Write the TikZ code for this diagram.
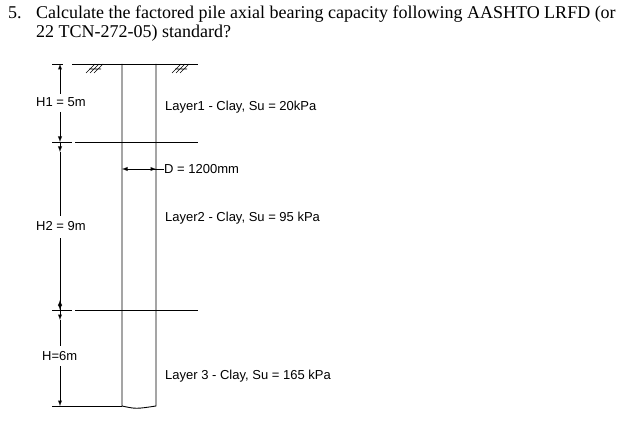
\documentclass[tikz,border=0pt]{standalone}
\usepackage{fontspec}
\setmainfont{Liberation Serif}
\newfontfamily\arialf{Liberation Sans}
\begin{document}
\begin{tikzpicture}[x=1pt,y=-1pt,
  lab/.style={font=\arialf\fontsize{13}{15}\selectfont,anchor=west,inner sep=0},
  ttl/.style={font=\fontsize{18}{21}\selectfont,anchor=base west,inner sep=0},
  ln/.style={line width=0.9pt},
  dim/.style={line width=0.9pt,-latex}]
\useasboundingbox (0,0) rectangle (625,428);
\node[ttl] (n5) at (8,19) {5.};
\node[ttl] (t1) at (36,19) {Calculate the factored pile axial bearing capacity following AASHTO LRFD (or};
\node[ttl] (t2) at (36,38) {22 TCN-272-05) standard?};
% ground and boundaries
\coordinate (g0) at (52,64); \coordinate (g1) at (63,64);
\coordinate (g2) at (72,64); \coordinate (g3) at (198,64);
\draw[ln] (g0)--(g1) (g2)--(g3);
\coordinate (b0) at (52,142); \coordinate (b1) at (72,142); \coordinate (b2) at (75,142); \coordinate (b3) at (198,142);
\draw[ln] (b0)--(b1) (b2)--(b3);
\coordinate (c0) at (52,310); \coordinate (c1) at (72,310); \coordinate (c2) at (75,310); \coordinate (c3) at (198,310);
\draw[ln] (c0)--(c1) (c2)--(c3);
\coordinate (d0) at (52,406); \coordinate (d1) at (122,406);
\draw[ln] (d0)--(d1);
% hatches
\foreach \hx in {86,172}{
  \draw[line width=0.6pt] (\hx,73)--(\hx+9,64) (\hx+4,73)--(\hx+13,64) (\hx+8,73)--(\hx+17,64) (\hx+3,69)--(\hx+15,69);
}
% pile
\coordinate (p0) at (122,64); \coordinate (p1) at (122,406);
\coordinate (p2) at (156,64); \coordinate (p3) at (156,406);
\draw[ln] (p0)--(p1) .. controls (136,409) .. (p3)--(p2);
% dimension line
\node[lab] (h1) at (36,102) {H1 = 5m};
\node[lab] (h2) at (36,226) {H2 = 9m};
\node[lab] (h3) at (42,356) {H=6m};
\draw[dim] (60,94)--(60,64);
\draw[dim] (60,112)--(60,142);
\draw[dim] (60,142)--(60,152);
\draw[ln] (60,152)--(60,216);
\draw[dim] (60,238)--(60,310);
\draw[dim] (60,310)--(60,300);
\draw[ln] (60,300)--(60,296);
\draw[dim] (60,310)--(60,320);
\draw[ln] (60,320)--(60,346);
\draw[dim] (60,366)--(60,406);
% D
\node[lab] (dl) at (164,169) {D = 1200mm};
\draw[dim] (dl.west)--(122,169);
\draw[dim] (140,169)--(156,169);
% layer labels
\node[lab] (l1) at (165,107) {Layer1 - Clay, Su = 20kPa};
\node[lab] (l2) at (165,218) {Layer2 - Clay, Su = 95 kPa};
\node[lab] (l3) at (165,376) {Layer 3 - Clay, Su = 165 kPa};
\end{tikzpicture}
\end{document}
